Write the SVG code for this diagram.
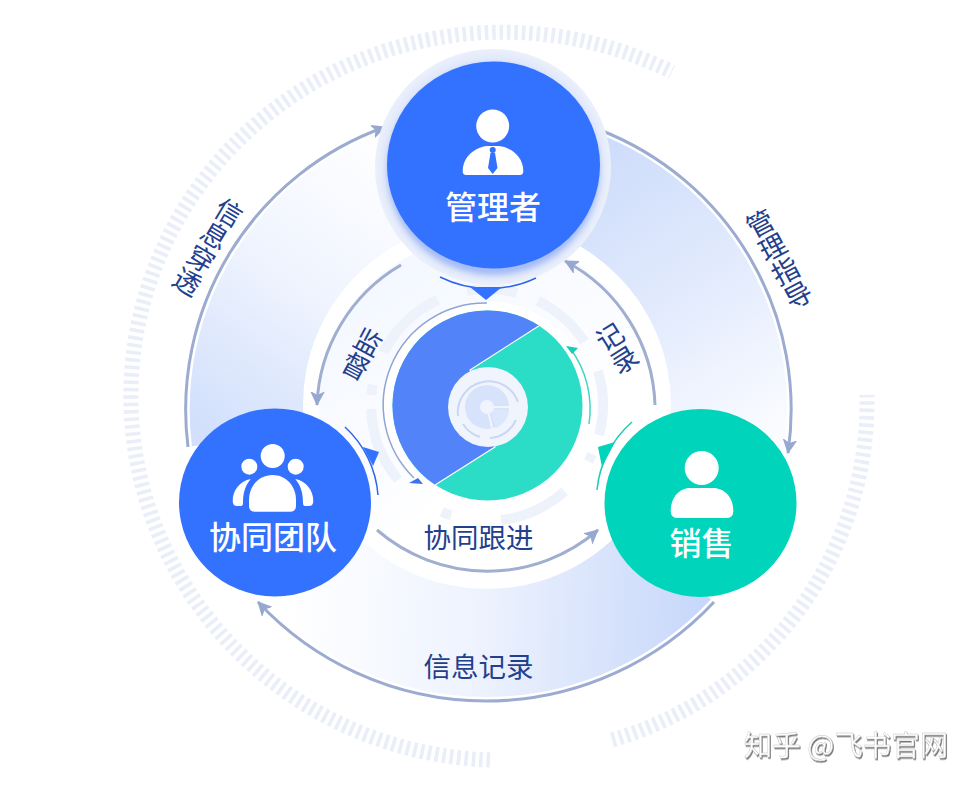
<svg xmlns="http://www.w3.org/2000/svg" width="976" height="786" viewBox="0 0 976 786">
<style>
.t{font-family:"Noto Sans CJK SC","Noto Sans",sans-serif;text-anchor:middle}
.lab{font-size:27.5px;fill:#23408c;font-weight:400}
.v{writing-mode:vertical-rl;font-size:27px}
.nt{font-size:32px;fill:#fff;font-weight:500}
.ticks{fill:none;stroke:#e9eef9;stroke-width:15;stroke-dasharray:3.6 3.8}
.out{fill:none;stroke:#9cacd0;stroke-width:3;marker-end:url(#ah)}
.gap{fill:none;stroke:#fff;stroke-width:8}
.in{fill:none;stroke:#a0aecf;stroke-width:3;marker-end:url(#ah)}
.w{fill:#fff}
</style>
<defs>
<marker id="ah" markerUnits="userSpaceOnUse" markerWidth="26" markerHeight="26" refX="13" refY="13" orient="auto" viewBox="0 0 26 26"><path d="M14 13L-1 5.5L3 13L-1 20.5Z" fill="#97a8d0"/></marker>
<clipPath id="disc"><circle cx="487.5" cy="405.5" r="95"/></clipPath>
<linearGradient id="gl" gradientUnits="userSpaceOnUse" x1="390" y1="140" x2="190" y2="420"><stop offset="0" stop-color="#fff"/><stop offset=".45" stop-color="#f1f5fe"/><stop offset="1" stop-color="#d2e0fc"/></linearGradient>
<linearGradient id="gr" gradientUnits="userSpaceOnUse" x1="600" y1="140" x2="785" y2="430"><stop offset="0" stop-color="#cddcfb"/><stop offset=".55" stop-color="#e4ecfd"/><stop offset="1" stop-color="#fbfcff"/></linearGradient>
<linearGradient id="gb" gradientUnits="userSpaceOnUse" x1="290" y1="600" x2="700" y2="620"><stop offset="0" stop-color="#fff"/><stop offset=".45" stop-color="#eef3fe"/><stop offset="1" stop-color="#c8d8fa"/></linearGradient>
<linearGradient id="gi" gradientUnits="userSpaceOnUse" x1="330" y1="290" x2="470" y2="500"><stop offset="0" stop-color="#f3f7ff"/><stop offset="1" stop-color="#fff"/></linearGradient>
<radialGradient id="halo"><stop offset=".86" stop-color="#cfdbf8"/><stop offset=".92" stop-color="#e2e9fa"/><stop offset="1" stop-color="#ebf0fb"/></radialGradient>
<filter id="bl" x="-20%" y="-20%" width="140%" height="140%"><feGaussianBlur stdDeviation="3"/></filter>
<filter id="sh" x="-5%" y="-20%" width="110%" height="140%"><feDropShadow dx="1" dy="1.5" stdDeviation=".6" flood-color="#777"/></filter>
</defs>
<rect width="976" height="786" fill="#fff"/>
<g id="tick-rings">
<path class="ticks" d="M490 760A372 364 0 1 1 672 72"/>
<path class="ticks" d="M612 740A352 352 0 0 0 867 395"/>
</g>
<g id="sectors">
<path fill="url(#gl)" d="M188 447A300 300 0 0 1 385 127L487 405Z"/>
<path fill="url(#gr)" d="M600 130A300 300 0 0 1 788 453L487 405Z"/>
<path fill="url(#gb)" d="M714 602A312 312 0 0 1 258 602L487 405Z"/>
<circle class="w" cx="487" cy="405" r="184"/>
<circle cx="487" cy="405" r="168" fill="url(#gi)"/>
<path fill="none" stroke="#edf2fb" stroke-width="10" d="M466.9 290.8A116 116 0 0 1 517 293M537.8 300.7A116 116 0 0 1 584.3 341.8M597.9 371A116 116 0 0 1 599 435M592.1 454A116 116 0 0 1 588.5 461.3M564.6 491.2A116 116 0 0 1 501.1 520.1M451.2 515.3A116 116 0 0 1 441.7 511.8M398.1 479.6A116 116 0 0 1 371.1 409M371.5 394.9A116 116 0 0 1 372.7 384.8M383.6 352.3A116 116 0 0 1 437.9 299.9"/>
</g>
<g id="connectors">
<path class="gap" d="M188 447A300 300 0 0 1 385 127"/>
<path class="gap" d="M600 130A300 300 0 0 1 788 453"/>
<path class="gap" d="M714 602A312 312 0 0 1 258 602"/>
<path class="out" d="M188 447A300 300 0 0 1 385 127"/>
<path class="out" d="M600 130A300 300 0 0 1 788 453"/>
<path class="out" d="M714 602A312 312 0 0 1 258 602"/>
<path class="in" d="M401 265A169 169 0 0 0 317 405"/>
<path class="in" d="M655 405A169 169 0 0 0 565 261"/>
<path class="in" d="M377 530A169 169 0 0 0 598 530"/>
</g>
<g id="center">
<circle class="w" cx="487.5" cy="405.5" r="104"/>
<path fill="none" stroke="#8fa4d6" stroke-width="1.5" d="M487 303A102 102 0 0 0 414 478"/>
<path fill="#3b72ee" d="M409 483L418 478L423 484Z"/>
<path fill="none" stroke="#3fd8c6" stroke-width="1.5" d="M570 348A102 102 0 0 1 589 424"/>
<path fill="#17cdb5" d="M566 346L578 348L572 354Z"/>
<circle cx="487.5" cy="405.5" r="95" fill="#2bdcc7"/>
<path clip-path="url(#disc)" fill="#5283f8" stroke="#fff" stroke-width="1.2" d="M470 370L560 312.3V290H370V520H406V503.4L495 447Z"/>
<circle cx="488" cy="407" r="40" fill="#f0f4fd"/>
<circle cx="487" cy="407" r="22" fill="#d7e3fb"/>
<path fill="none" stroke="#f0f4fd" stroke-width="2" d="M487 407H512M487 407L493 432"/>
<path fill="#dde7fb" d="M490 409L509 410A22 22 0 0 1 496 428Z"/>
<circle cx="487" cy="407" r="7" fill="#f0f4fd"/>
<path fill="none" stroke="#c9d7f5" stroke-width="2" d="M458 416A31 31 0 0 1 518 402M516 420A31 31 0 0 1 490 438M480 437A31 31 0 0 1 463 424"/>
</g>
<g id="node-manager">
<circle cx="493" cy="167" r="118" fill="url(#halo)"/>
<ellipse cx="493.5" cy="171" rx="106" ry="104" fill="#a3bbf5" filter="url(#bl)"/>
<ellipse cx="493.5" cy="165" rx="106.5" ry="103.5" fill="#3371ff"/>
<path fill="none" stroke="#2f66e8" stroke-width="1.5" d="M440 277A110 110 0 0 0 536 278"/>
<path fill="#3371ff" d="M470 287H502L486 300Z"/>
<circle class="w" cx="492.7" cy="126" r="16.5"/>
<path class="w" d="M466 175Q462.7 175 462.7 171C462.7 156 476 147 487 146H499C510 147 523.3 156 523.3 171Q523.3 175 520 175Z"/>
<path fill="#3371ff" d="M490.5 153H495L497.5 168L492.7 174L488 168Z"/>
<circle cx="492.7" cy="150" r="3" fill="#3371ff"/>
<text class="t nt" x="493" y="219">管理者</text>
</g>
<g id="node-team">
<ellipse cx="275" cy="502.5" rx="96" ry="94" fill="#3371ff"/>
<path fill="none" stroke="#2f66e8" stroke-width="1.5" d="M345 427A103 103 0 0 1 378 495"/>
<path fill="#3371ff" d="M363 447L379 452L373 466Z"/>
<circle class="w" cx="272.7" cy="456" r="12"/>
<circle class="w" cx="249.3" cy="466.7" r="8"/>
<circle class="w" cx="295.7" cy="466.7" r="8"/>
<path class="w" d="M272.7 475C259 475 249 486 249 500V506Q249 511.7 255 511.7H290Q296 511.7 296 506V500C296 486 286 475 272.7 475Z"/>
<path class="w" d="M250.7 479C240 481 232.7 490 232.7 501Q232.7 506 237 506H241Q243 506 243 503C243 493 245 486 250.7 479Z"/>
<path class="w" d="M295.3 479C306 481 313.3 490 313.3 501Q313.3 506 309 506H305Q303 506 303 503C303 493 301 486 295.3 479Z"/>
<text class="t nt" x="273" y="549">协同团队</text>
</g>
<g id="node-sales">
<ellipse cx="700.5" cy="503" rx="96" ry="94" fill="#00d4bb"/>
<path fill="none" stroke="#17cdb5" stroke-width="1.5" d="M632 422A103 103 0 0 0 597 490"/>
<path fill="#00d4bb" d="M598 447L615 442L602 467Z"/>
<circle class="w" cx="701.7" cy="468" r="17"/>
<path class="w" d="M690 488H713C725 488 733.3 498 733.3 511Q733.3 518 727 518H677Q670.7 518 670.7 511C670.7 498 679 488 690 488Z"/>
<text class="t nt" x="701.5" y="555">销售</text>
</g>
<g id="labels">
<text class="t lab" x="478.5" y="548">协同跟进</text>
<text class="t lab" x="478.5" y="677">信息记录</text>
<text class="t lab v" transform="translate(208 247) rotate(31)" x="0" y="0">信息穿透</text>
<text class="t lab v" transform="translate(779 259) rotate(-28)" x="0" y="0">管理指导</text>
<text class="t lab v" transform="translate(617 348) rotate(-32)" x="0" y="0">记录</text>
<text class="t lab v" transform="translate(362 354) rotate(28)" x="0" y="0">监督</text>
</g>
<g id="watermark"><text x="846" y="756" class="t" style="font-size:28.5px;fill:#fff" stroke="#c4c4c4" stroke-width=".4" filter="url(#sh)">知乎 @飞书官网</text></g>
</svg>
